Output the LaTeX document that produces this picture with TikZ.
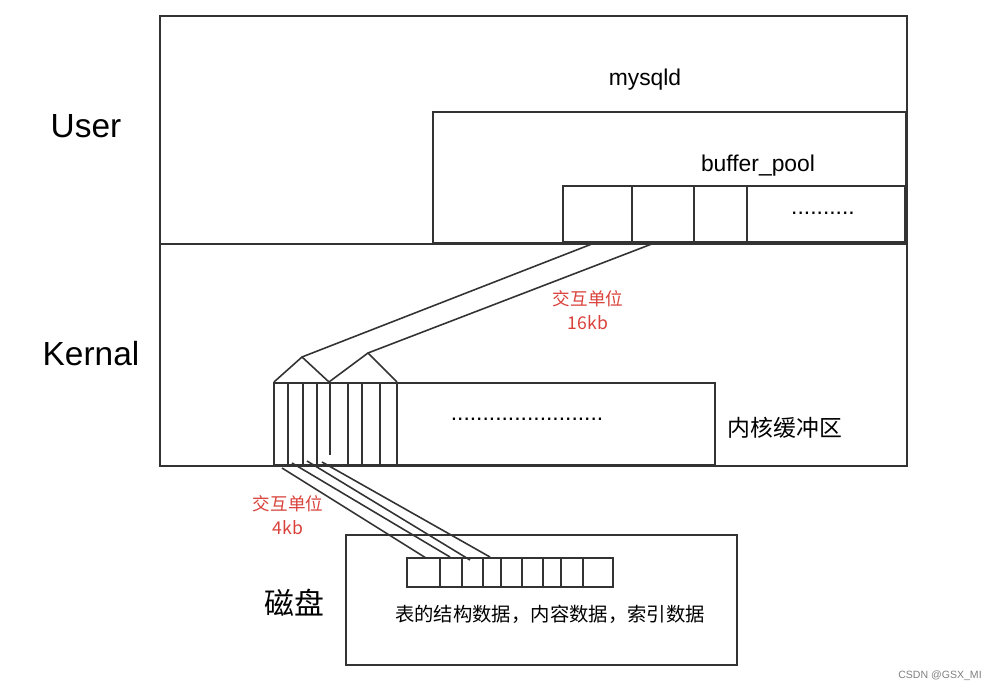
\documentclass[tikz,border=0pt]{standalone}
\usepackage{fontspec}
\setmainfont{Liberation Sans}
\newfontfamily\cjk{Noto Sans CJK SC}
\definecolor{lbl}{HTML}{D9413A}
\definecolor{ln}{HTML}{333333}
\begin{document}
\begin{tikzpicture}[x=0.01cm,y=-0.01cm,
  box/.style={draw=ln,line width=0.5pt},
  wire/.style={draw=ln,line width=0.45pt},
  big/.style={font=\fontsize{9.5}{10}\selectfont},
  txt/.style={font=\fontsize{6.5}{7}\selectfont},
  cn/.style={font=\cjk\fontsize{5.5}{7}\selectfont},
  red/.style={font=\cjk\fontsize{5}{7}\selectfont,text=lbl,align=center}]
\useasboundingbox (0,0) rectangle (999,691);
% frames
\draw[box] (160,16) rectangle (907,244);
\draw[box] (160,244) rectangle (907,466);
\draw[box] (433,112) rectangle (906,243);
\draw[box] (563,186) rectangle (905,242);
\foreach \x in {632,694,747} \draw[box] (\x,186) -- (\x,242);
\node[big] (user) at (86,126) {User};
\node[big] (kern) at (91,354) {Kernal};
\node[txt] (mysqld) at (645,80) {mysqld};
\node[txt] (bp) at (758,166) {buffer\_pool};
\node[txt] (bd) at (823,213) {..........};
% kernel buffer
\draw[box] (274,383) rectangle (715,465);
\foreach \x in {288,303,317,348,362,380,397} \draw[box] (\x,383) -- (\x,465);
\draw[box] (330,383) -- (330,455);
\node[txt] (kd) at (527,419) {........................};
\node[font=\cjk\fontsize{6.5}{8}\selectfont] (kb) at (785,428) {内核缓冲区};
% roofs
\coordinate (p1) at (302,357);
\coordinate (p2) at (368,353);
\coordinate (c1) at (597,242);
\coordinate (c2) at (657,242);
\draw[wire] (274,382) -- (p1) -- (329,382) -- (p2) -- (397,382);
\draw[wire] (p1) -- (c1);
\draw[wire] (p2) -- (c2);
\node[red] (l16) at (588,310) {交互单位\\16kb};
% disk
\draw[box] (346,535) rectangle (737,665);
\draw[box] (407,558) rectangle (613,587);
\foreach \x in {440,462,483,501,522,543,561,583} \draw[box] (\x,558) -- (\x,587);
\node[font=\cjk\fontsize{8.5}{10}\selectfont] (disk) at (294,603) {磁盘};
\node[cn] (dt) at (550,614) {表的结构数据，内容数据，索引数据};
\coordinate (a1) at (282,468); \coordinate (b1) at (426,558);
\coordinate (a2) at (292,463); \coordinate (b2) at (450,557);
\coordinate (a3) at (307,461); \coordinate (b3) at (470,560);
\coordinate (a4) at (322,462); \coordinate (b4) at (490,557);
\foreach \i in {1,2,3,4} \draw[wire] (a\i) -- (b\i);
\node[red] (l4) at (288,515) {交互单位\\4kb};
\node[font=\fontsize{3}{4}\selectfont,text=gray] (csdn) at (940,676) {CSDN @GSX\_MI};
\end{tikzpicture}
\end{document}
